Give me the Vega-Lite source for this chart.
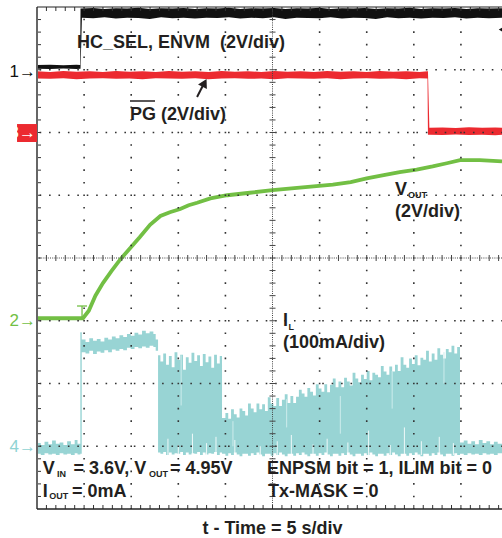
{
"$schema":"https://vega.github.io/schema/vega-lite/v6.json",
"width":465,"height":502,
"autosize":{"type":"none"},
"padding":{"left":37,"top":7,"right":0,"bottom":29},
"background":"white",
"config":{"view":{"stroke":null},"font":"Liberation Sans"},
"datasets":{
"il":[
{"t":0,"hi":1.05,"lo":0.88},{"t":0.4,"hi":1.02,"lo":0.86},{"t":0.8,"hi":1.07,"lo":0.89},{"t":1.2,"hi":1.03,"lo":0.87},{"t":1.6,"hi":1.09,"lo":0.88},{"t":2.0,"hi":1.04,"lo":0.86},{"t":2.4,"hi":1.06,"lo":0.89},{"t":2.8,"hi":1.02,"lo":0.87},{"t":3.2,"hi":1.08,"lo":0.88},{"t":3.6,"hi":1.03,"lo":0.86},{"t":4.0,"hi":1.1,"lo":0.89},{"t":4.3,"hi":1.04,"lo":0.87},
{"t":4.6,"hi":2.8,"lo":0.88},
{"t":4.75,"hi":2.7,"lo":2.5},{"t":5.15,"hi":2.66,"lo":2.48},{"t":5.55,"hi":2.72,"lo":2.52},{"t":5.95,"hi":2.68,"lo":2.47},{"t":6.35,"hi":2.71,"lo":2.51},{"t":6.75,"hi":2.67,"lo":2.49},{"t":7.15,"hi":2.73,"lo":2.53},{"t":7.55,"hi":2.7,"lo":2.5},{"t":7.95,"hi":2.75,"lo":2.54},{"t":8.35,"hi":2.72,"lo":2.52},{"t":8.75,"hi":2.77,"lo":2.55},{"t":9.15,"hi":2.74,"lo":2.53},{"t":9.55,"hi":2.79,"lo":2.57},{"t":9.95,"hi":2.76,"lo":2.55},{"t":10.35,"hi":2.81,"lo":2.58},{"t":10.75,"hi":2.78,"lo":2.56},{"t":11.15,"hi":2.84,"lo":2.59},{"t":11.55,"hi":2.8,"lo":2.57},{"t":11.95,"hi":2.83,"lo":2.6},{"t":12.35,"hi":2.79,"lo":2.58},{"t":12.6,"hi":2.7,"lo":2.52},
{"t":12.85,"hi":2.45,"lo":0.9},{"t":13.1,"hi":2.35,"lo":0.88},{"t":13.4,"hi":2.48,"lo":0.91},{"t":13.7,"hi":2.3,"lo":0.86},{"t":14.0,"hi":2.44,"lo":0.9},{"t":14.3,"hi":2.26,"lo":0.87},{"t":14.6,"hi":2.5,"lo":0.89},{"t":14.9,"hi":2.38,"lo":0.88},{"t":15.2,"hi":2.46,"lo":0.91},{"t":15.5,"hi":2.22,"lo":0.86},{"t":15.8,"hi":2.42,"lo":0.9},{"t":16.1,"hi":2.33,"lo":0.87},{"t":16.4,"hi":2.49,"lo":0.89},{"t":16.7,"hi":2.36,"lo":0.88},{"t":17.0,"hi":2.45,"lo":0.91},{"t":17.3,"hi":2.28,"lo":0.86},{"t":17.6,"hi":2.47,"lo":0.9},{"t":17.9,"hi":2.34,"lo":0.87},{"t":18.2,"hi":2.43,"lo":0.89},{"t":18.5,"hi":2.25,"lo":0.88},{"t":18.8,"hi":2.46,"lo":0.91},{"t":19.1,"hi":2.32,"lo":0.86},{"t":19.4,"hi":2.44,"lo":0.9},
{"t":19.64,"hi":1.45,"lo":0.88},{"t":20.0,"hi":1.53,"lo":0.85},{"t":20.3,"hi":1.44,"lo":0.89},{"t":20.6,"hi":1.59,"lo":0.86},{"t":20.9,"hi":1.51,"lo":0.9},{"t":21.2,"hi":1.46,"lo":0.87},{"t":21.5,"hi":1.6,"lo":0.84},{"t":21.8,"hi":1.56,"lo":0.88},{"t":22.1,"hi":1.49,"lo":0.88},{"t":22.4,"hi":1.68,"lo":0.85},{"t":22.7,"hi":1.6,"lo":0.89},{"t":23.0,"hi":1.54,"lo":0.86},{"t":23.3,"hi":1.68,"lo":0.9},{"t":23.6,"hi":1.59,"lo":0.87},{"t":23.9,"hi":1.67,"lo":0.84},{"t":24.2,"hi":1.56,"lo":0.88},{"t":24.5,"hi":1.78,"lo":0.88},{"t":24.8,"hi":1.68,"lo":0.85},{"t":25.1,"hi":1.64,"lo":0.89},{"t":25.4,"hi":1.77,"lo":0.86},{"t":25.7,"hi":1.64,"lo":0.9},{"t":26.0,"hi":1.74,"lo":0.87},{"t":26.3,"hi":1.83,"lo":0.84},{"t":26.6,"hi":1.69,"lo":0.88},{"t":26.9,"hi":1.8,"lo":0.88},{"t":27.2,"hi":1.69,"lo":0.85},{"t":27.5,"hi":1.79,"lo":0.89},{"t":27.8,"hi":1.9,"lo":0.86},{"t":28.1,"hi":1.84,"lo":0.9},{"t":28.4,"hi":1.79,"lo":0.87},{"t":28.7,"hi":1.93,"lo":0.84},{"t":29.0,"hi":1.87,"lo":0.88},{"t":29.3,"hi":1.81,"lo":0.88},{"t":29.6,"hi":1.99,"lo":0.85},{"t":29.9,"hi":1.92,"lo":0.89},{"t":30.2,"hi":1.87,"lo":0.86},{"t":30.5,"hi":1.99,"lo":0.9},{"t":30.8,"hi":1.86,"lo":0.87},{"t":31.1,"hi":1.98,"lo":0.84},{"t":31.4,"hi":2.08,"lo":0.88},{"t":31.7,"hi":1.94,"lo":0.88},{"t":32.0,"hi":2.03,"lo":0.85},{"t":32.3,"hi":1.94,"lo":0.89},{"t":32.6,"hi":2.09,"lo":0.86},{"t":32.9,"hi":2.03,"lo":0.9},{"t":33.2,"hi":1.97,"lo":0.87},{"t":33.5,"hi":2.17,"lo":0.84},{"t":33.8,"hi":2.08,"lo":0.88},{"t":34.1,"hi":2.02,"lo":0.88},{"t":34.4,"hi":2.14,"lo":0.85},{"t":34.7,"hi":2.07,"lo":0.89},{"t":35.0,"hi":2.2,"lo":0.86},{"t":35.3,"hi":2.05,"lo":0.9},{"t":35.6,"hi":2.17,"lo":0.87},{"t":35.9,"hi":2.14,"lo":0.84},{"t":36.2,"hi":2.1,"lo":0.88},{"t":36.5,"hi":2.28,"lo":0.88},{"t":36.8,"hi":2.19,"lo":0.85},{"t":37.1,"hi":2.14,"lo":0.89},{"t":37.4,"hi":2.27,"lo":0.86},{"t":37.7,"hi":2.19,"lo":0.9},{"t":38.0,"hi":2.3,"lo":0.87},{"t":38.3,"hi":2.2,"lo":0.84},{"t":38.6,"hi":2.42,"lo":0.88},{"t":38.9,"hi":2.3,"lo":0.88},{"t":39.2,"hi":2.25,"lo":0.85},{"t":39.5,"hi":2.4,"lo":0.89},{"t":39.8,"hi":2.31,"lo":0.86},{"t":40.1,"hi":2.45,"lo":0.9},{"t":40.4,"hi":2.29,"lo":0.87},{"t":40.7,"hi":2.41,"lo":0.84},{"t":41.0,"hi":2.38,"lo":0.88},{"t":41.3,"hi":2.52,"lo":0.88},{"t":41.6,"hi":2.35,"lo":0.85},{"t":41.9,"hi":2.48,"lo":0.89},{"t":42.2,"hi":2.38,"lo":0.86},{"t":42.5,"hi":2.56,"lo":0.9},{"t":42.8,"hi":2.46,"lo":0.87},{"t":43.1,"hi":2.4,"lo":0.84},{"t":43.4,"hi":2.55,"lo":0.88},{"t":43.7,"hi":2.5,"lo":0.88},{"t":44.0,"hi":2.6,"lo":0.85},{"t":44.3,"hi":2.48,"lo":0.89},{"t":44.6,"hi":2.58,"lo":0.86},
{"t":44.9,"hi":1.06,"lo":0.88},{"t":45.3,"hi":1.09,"lo":0.86},{"t":45.7,"hi":1.04,"lo":0.89},{"t":46.1,"hi":1.08,"lo":0.87},{"t":46.5,"hi":1.03,"lo":0.88},{"t":46.9,"hi":1.1,"lo":0.86},{"t":47.3,"hi":1.05,"lo":0.89},{"t":47.7,"hi":1.08,"lo":0.87},{"t":48.1,"hi":1.03,"lo":0.88},{"t":48.5,"hi":1.07,"lo":0.86},{"t":48.9,"hi":1.04,"lo":0.89},{"t":49.36,"hi":1.06,"lo":0.87}
],
"ws":[{"t":13.9,"a":0.86,"b":1.12},{"t":15.0,"a":0.86,"b":1.02},{"t":16.5,"a":0.86,"b":1.2},{"t":18.0,"a":0.86,"b":1.05},{"t":19.0,"a":0.86,"b":1.15},{"t":21.0,"a":0.86,"b":1.1},{"t":23.7,"a":0.86,"b":1.0},{"t":25.5,"a":0.86,"b":1.08},{"t":27.0,"a":0.86,"b":1.18},{"t":29.3,"a":0.86,"b":1.03},{"t":30.8,"a":0.86,"b":1.12},{"t":33.0,"a":0.86,"b":1.06},{"t":35.2,"a":0.86,"b":1.25},{"t":37.5,"a":0.86,"b":1.02},{"t":39.0,"a":0.86,"b":1.3},{"t":40.8,"a":0.86,"b":1.08},{"t":42.7,"a":0.86,"b":1.15},{"t":44.2,"a":0.86,"b":1.05}],
"ls":[{"t":15.3,"a":1.65,"b":2.45},{"t":26.5,"a":1.3,"b":1.75},{"t":37.7,"a":1.6,"b":2.2},{"t":43.2,"a":2.0,"b":2.5},{"t":20.8,"a":1.0,"b":1.4},{"t":32.2,"a":1.2,"b":1.8}],
"green":[
{"t":0,"v":3.04},{"t":4.88,"v":3.04},{"t":5.5,"v":3.16},{"t":6.2,"v":3.4},{"t":7.0,"v":3.6},{"t":7.9,"v":3.79},{"t":8.8,"v":3.97},{"t":9.9,"v":4.16},{"t":10.9,"v":4.33},{"t":12.0,"v":4.53},{"t":13.1,"v":4.67},{"t":14.1,"v":4.73},{"t":15.2,"v":4.78},{"t":16.1,"v":4.84},{"t":17.0,"v":4.88},{"t":18.4,"v":4.95},{"t":20.2,"v":5.0},{"t":22.6,"v":5.04},{"t":25.0,"v":5.08},{"t":27.9,"v":5.12},{"t":31.4,"v":5.17},{"t":33.3,"v":5.21},{"t":35.0,"v":5.27},{"t":36.8,"v":5.32},{"t":38.5,"v":5.37},{"t":40.3,"v":5.41},{"t":42.0,"v":5.46},{"t":43.5,"v":5.51},{"t":44.9,"v":5.56},{"t":47.0,"v":5.56},{"t":49.36,"v":5.54}
],
"red":[
{"t":0,"hi":6.975,"lo":6.86},{"t":1.4,"hi":6.965,"lo":6.855},{"t":2.8,"hi":6.98,"lo":6.865},{"t":4.2,"hi":6.97,"lo":6.85},{"t":5.6,"hi":6.975,"lo":6.86},{"t":7.0,"hi":6.965,"lo":6.865},{"t":8.4,"hi":6.98,"lo":6.855},{"t":9.8,"hi":6.97,"lo":6.86},{"t":11.2,"hi":6.975,"lo":6.85},{"t":12.6,"hi":6.965,"lo":6.865},{"t":14.0,"hi":6.98,"lo":6.86},{"t":15.4,"hi":6.97,"lo":6.855},{"t":16.8,"hi":6.975,"lo":6.865},{"t":18.2,"hi":6.965,"lo":6.85},{"t":19.6,"hi":6.98,"lo":6.86},{"t":21.0,"hi":6.97,"lo":6.865},{"t":22.4,"hi":6.975,"lo":6.855},{"t":23.8,"hi":6.965,"lo":6.86},{"t":25.2,"hi":6.98,"lo":6.85},{"t":26.6,"hi":6.97,"lo":6.865},{"t":28.0,"hi":6.975,"lo":6.86},{"t":29.4,"hi":6.965,"lo":6.855},{"t":30.8,"hi":6.98,"lo":6.865},{"t":32.2,"hi":6.97,"lo":6.85},{"t":33.6,"hi":6.975,"lo":6.86},{"t":35.0,"hi":6.965,"lo":6.865},{"t":36.4,"hi":6.98,"lo":6.855},{"t":37.8,"hi":6.97,"lo":6.86},{"t":39.2,"hi":6.975,"lo":6.85},{"t":40.6,"hi":6.965,"lo":6.865},{"t":41.45,"hi":6.975,"lo":6.86},
{"t":41.5,"hi":6.975,"lo":5.965},{"t":41.65,"hi":6.075,"lo":5.965},{"t":43.05,"hi":6.08,"lo":5.96},{"t":44.45,"hi":6.07,"lo":5.97},{"t":45.85,"hi":6.085,"lo":5.96},{"t":47.25,"hi":6.075,"lo":5.965},{"t":48.65,"hi":6.08,"lo":5.955},{"t":49.36,"hi":6.075,"lo":5.965}
],
"black":[
{"t":0,"hi":7.075,"lo":7.015},{"t":1.4,"hi":7.08,"lo":7.01},{"t":2.8,"hi":7.07,"lo":7.02},{"t":4.2,"hi":7.08,"lo":7.01},{"t":4.58,"hi":7.075,"lo":7.015},{"t":4.62,"hi":7.975,"lo":7.015},
{"t":4.77,"hi":7.975,"lo":7.83},{"t":5.97,"hi":7.985,"lo":7.82},{"t":7.17,"hi":7.97,"lo":7.835},{"t":8.37,"hi":7.98,"lo":7.815},{"t":9.57,"hi":7.975,"lo":7.83},{"t":10.77,"hi":7.99,"lo":7.825},{"t":11.97,"hi":7.97,"lo":7.81},{"t":13.17,"hi":7.98,"lo":7.835},{"t":14.37,"hi":7.975,"lo":7.82},{"t":15.57,"hi":7.985,"lo":7.83},{"t":16.77,"hi":7.97,"lo":7.815},{"t":17.97,"hi":7.98,"lo":7.83},{"t":19.17,"hi":7.975,"lo":7.825},{"t":20.37,"hi":7.99,"lo":7.835},{"t":21.57,"hi":7.97,"lo":7.815},{"t":22.77,"hi":7.98,"lo":7.83},{"t":23.97,"hi":7.975,"lo":7.82},{"t":25.17,"hi":7.985,"lo":7.835},{"t":26.37,"hi":7.97,"lo":7.81},{"t":27.57,"hi":7.98,"lo":7.83},{"t":28.77,"hi":7.975,"lo":7.825},{"t":29.97,"hi":7.99,"lo":7.82},{"t":31.17,"hi":7.97,"lo":7.835},{"t":32.37,"hi":7.98,"lo":7.815},{"t":33.57,"hi":7.975,"lo":7.83},{"t":34.77,"hi":7.985,"lo":7.825},{"t":35.97,"hi":7.97,"lo":7.81},{"t":37.17,"hi":7.98,"lo":7.835},{"t":38.37,"hi":7.975,"lo":7.82},{"t":39.57,"hi":7.99,"lo":7.83},{"t":40.77,"hi":7.97,"lo":7.815},{"t":41.97,"hi":7.98,"lo":7.83},{"t":43.17,"hi":7.975,"lo":7.825},{"t":44.37,"hi":7.985,"lo":7.835},{"t":45.57,"hi":7.97,"lo":7.815},{"t":46.77,"hi":7.98,"lo":7.83},{"t":47.97,"hi":7.975,"lo":7.82},{"t":49.36,"hi":7.98,"lo":7.83}
],
"gx":[{"t":5},{"t":10},{"t":15},{"t":20},{"t":30},{"t":35},{"t":40},{"t":45}],
"gy":[{"v":1},{"v":2},{"v":3},{"v":5},{"v":6},{"v":7}],
"mx":[{"t":1,"b":0,"c":4,"e":8},{"t":2,"b":0,"c":4,"e":8},{"t":3,"b":0,"c":4,"e":8},{"t":4,"b":0,"c":4,"e":8},{"t":5,"b":0,"c":4,"e":8},{"t":6,"b":0,"c":4,"e":8},{"t":7,"b":0,"c":4,"e":8},{"t":8,"b":0,"c":4,"e":8},{"t":9,"b":0,"c":4,"e":8},{"t":10,"b":0,"c":4,"e":8},{"t":11,"b":0,"c":4,"e":8},{"t":12,"b":0,"c":4,"e":8},{"t":13,"b":0,"c":4,"e":8},{"t":14,"b":0,"c":4,"e":8},{"t":15,"b":0,"c":4,"e":8},{"t":16,"b":0,"c":4,"e":8},{"t":17,"b":0,"c":4,"e":8},{"t":18,"b":0,"c":4,"e":8},{"t":19,"b":0,"c":4,"e":8},{"t":20,"b":0,"c":4,"e":8},{"t":21,"b":0,"c":4,"e":8},{"t":22,"b":0,"c":4,"e":8},{"t":23,"b":0,"c":4,"e":8},{"t":24,"b":0,"c":4,"e":8},{"t":25,"b":0,"c":4,"e":8},{"t":26,"b":0,"c":4,"e":8},{"t":27,"b":0,"c":4,"e":8},{"t":28,"b":0,"c":4,"e":8},{"t":29,"b":0,"c":4,"e":8},{"t":30,"b":0,"c":4,"e":8},{"t":31,"b":0,"c":4,"e":8},{"t":32,"b":0,"c":4,"e":8},{"t":33,"b":0,"c":4,"e":8},{"t":34,"b":0,"c":4,"e":8},{"t":35,"b":0,"c":4,"e":8},{"t":36,"b":0,"c":4,"e":8},{"t":37,"b":0,"c":4,"e":8},{"t":38,"b":0,"c":4,"e":8},{"t":39,"b":0,"c":4,"e":8},{"t":40,"b":0,"c":4,"e":8},{"t":41,"b":0,"c":4,"e":8},{"t":42,"b":0,"c":4,"e":8},{"t":43,"b":0,"c":4,"e":8},{"t":44,"b":0,"c":4,"e":8},{"t":45,"b":0,"c":4,"e":8},{"t":46,"b":0,"c":4,"e":8},{"t":47,"b":0,"c":4,"e":8},{"t":48,"b":0,"c":4,"e":8},{"t":49,"b":0,"c":4,"e":8}],
"my":[{"v":0.2,"l":0,"c":25},{"v":0.4,"l":0,"c":25},{"v":0.6,"l":0,"c":25},{"v":0.8,"l":0,"c":25},{"v":1,"l":0,"c":25},{"v":1.2,"l":0,"c":25},{"v":1.4,"l":0,"c":25},{"v":1.6,"l":0,"c":25},{"v":1.8,"l":0,"c":25},{"v":2,"l":0,"c":25},{"v":2.2,"l":0,"c":25},{"v":2.4,"l":0,"c":25},{"v":2.6,"l":0,"c":25},{"v":2.8,"l":0,"c":25},{"v":3,"l":0,"c":25},{"v":3.2,"l":0,"c":25},{"v":3.4,"l":0,"c":25},{"v":3.6,"l":0,"c":25},{"v":3.8,"l":0,"c":25},{"v":4,"l":0,"c":25},{"v":4.2,"l":0,"c":25},{"v":4.4,"l":0,"c":25},{"v":4.6,"l":0,"c":25},{"v":4.8,"l":0,"c":25},{"v":5,"l":0,"c":25},{"v":5.2,"l":0,"c":25},{"v":5.4,"l":0,"c":25},{"v":5.6,"l":0,"c":25},{"v":5.8,"l":0,"c":25},{"v":6,"l":0,"c":25},{"v":6.2,"l":0,"c":25},{"v":6.4,"l":0,"c":25},{"v":6.6,"l":0,"c":25},{"v":6.8,"l":0,"c":25},{"v":7,"l":0,"c":25},{"v":7.2,"l":0,"c":25},{"v":7.4,"l":0,"c":25},{"v":7.6,"l":0,"c":25},{"v":7.8,"l":0,"c":25}],
"lab":[
{"t":4.25,"v":7.347,"s":"HC_SEL, ENVM\u00a0 (2V/div)"},
{"t":9.87,"v":6.199,"s":"PG (2V/div)"},
{"t":38.0,"v":5.004,"s":"V"},
{"t":38.0,"v":4.653,"s":"(2V/div)"},
{"t":26.11,"v":2.916,"s":"I"},
{"t":26.11,"v":2.566,"s":"(100mA/div)"},
{"t":0.605,"v":0.558,"s":"V"},
{"t":3.87,"v":0.558,"s":"= 3.6V, V"},
{"t":14.12,"v":0.558,"s":"= 4.95V"},
{"t":0.605,"v":0.199,"s":"I"},
{"t":3.72,"v":0.199,"s":"= 0mA"},
{"t":24.42,"v":0.558,"s":"ENPSM bit = 1, ILIM bit = 0"},
{"t":24.52,"v":0.199,"s":"Tx-MASK = 0"}
],
"sub":[
{"t":39.38,"v":4.956,"s":"OUT"},
{"t":26.7,"v":2.853,"s":"L"},
{"t":2.12,"v":0.51,"s":"IN"},
{"t":11.89,"v":0.51,"s":"OUT"},
{"t":1.31,"v":0.159,"s":"OUT"}
],
"mk":[
{"t":-0.106,"v":6.964,"s":"1→","ch":"1"},
{"t":-0.106,"v":5.99,"s":"3→","ch":"3"},
{"t":-0.106,"v":2.996,"s":"2→","ch":"2"},
{"t":-0.106,"v":0.988,"s":"4→","ch":"4"}
]
},
"layer":[
{"data":{"name":"il"},"mark":{"type":"area","interpolate":"step-after","color":"#98d4d4"},
 "encoding":{"x":{"field":"t","type":"quantitative","scale":{"domain":[0,49.36],"nice":false,"zero":false},"axis":null},
  "y":{"field":"hi","type":"quantitative","scale":{"domain":[0,8],"nice":false,"zero":false},"axis":null},
  "y2":{"field":"lo"}}},
{"data":{"name":"ws"},"mark":{"type":"rule","color":"#ffffff","strokeWidth":1,"opacity":0.85},
 "encoding":{"x":{"field":"t","type":"quantitative","axis":null},"y":{"field":"a","type":"quantitative","axis":null},"y2":{"field":"b"}}},
{"data":{"name":"ls"},"mark":{"type":"rule","color":"#cdecec","strokeWidth":1},
 "encoding":{"x":{"field":"t","type":"quantitative","axis":null},"y":{"field":"a","type":"quantitative","axis":null},"y2":{"field":"b"}}},
{"data":{"values":[{"t":4.6,"t2":4.75,"v":2.805}]},"mark":{"type":"rule","color":"#98d4d4","strokeWidth":1.5},
 "encoding":{"x":{"field":"t","type":"quantitative","axis":null},"x2":{"field":"t2"},"y":{"field":"v","type":"quantitative","axis":null}}},
{"data":{"name":"green"},"mark":{"type":"line","color":"#72bf44","strokeWidth":3.8},
 "encoding":{"x":{"field":"t","type":"quantitative","axis":null},"y":{"field":"v","type":"quantitative","axis":null}}},
{"data":{"values":[{"t":4.25,"t2":5.31,"v":3.235,"v2":3.235},{"t":4.78,"t2":4.78,"v":3.235,"v2":3.04}]},"mark":{"type":"rule","color":"#72bf44","strokeWidth":1.3},
 "encoding":{"x":{"field":"t","type":"quantitative","axis":null},"x2":{"field":"t2"},"y":{"field":"v","type":"quantitative","axis":null},"y2":{"field":"v2"}}},
{"data":{"name":"red"},"mark":{"type":"area","color":"#ec2a30"},
 "encoding":{"x":{"field":"t","type":"quantitative","axis":null},"y":{"field":"hi","type":"quantitative","axis":null},"y2":{"field":"lo"}}},
{"data":{"name":"black"},"mark":{"type":"area","color":"#111111"},
 "encoding":{"x":{"field":"t","type":"quantitative","axis":null},"y":{"field":"hi","type":"quantitative","axis":null},"y2":{"field":"lo"}}},
{"data":{"name":"gx"},"mark":{"type":"rule","color":"#333333","strokeWidth":1.6,"strokeDash":[1.6,10.95],"strokeDashOffset":0.8},
 "encoding":{"x":{"field":"t","type":"quantitative","axis":null}}},
{"data":{"name":"gy"},"mark":{"type":"rule","color":"#333333","strokeWidth":1.6,"strokeDash":[1.6,7.82],"strokeDashOffset":0.8},
 "encoding":{"y":{"field":"v","type":"quantitative","axis":null}}},
{"data":{"values":[{"t":25}]},"mark":{"type":"rule","color":"#444444","strokeWidth":1,"strokeDash":[1,1.2]},
 "encoding":{"x":{"field":"t","type":"quantitative","axis":null}}},
{"data":{"values":[{"v":4}]},"mark":{"type":"rule","color":"#444444","strokeWidth":1,"strokeDash":[1,1.2]},
 "encoding":{"y":{"field":"v","type":"quantitative","axis":null}}},
{"data":{"name":"mx"},"mark":{"type":"tick","orient":"vertical","size":6,"thickness":1,"color":"#444444","opacity":1},
 "encoding":{"x":{"field":"t","type":"quantitative","axis":null},"y":{"field":"c","type":"quantitative","axis":null}}},
{"data":{"name":"my"},"mark":{"type":"tick","orient":"horizontal","size":6,"thickness":1,"color":"#444444","opacity":1},
 "encoding":{"y":{"field":"v","type":"quantitative","axis":null},"x":{"field":"c","type":"quantitative","axis":null}}},
{"data":{"name":"mx"},"mark":{"type":"tick","orient":"vertical","size":8,"thickness":1,"color":"#333333","opacity":1,"clip":true},
 "encoding":{"x":{"field":"t","type":"quantitative","axis":null},"y":{"field":"b","type":"quantitative","axis":null}}},
{"data":{"name":"mx"},"mark":{"type":"tick","orient":"vertical","size":8,"thickness":1,"color":"#333333","opacity":1,"clip":true},
 "encoding":{"x":{"field":"t","type":"quantitative","axis":null},"y":{"field":"e","type":"quantitative","axis":null}}},
{"data":{"name":"my"},"mark":{"type":"tick","orient":"horizontal","size":8,"thickness":1,"color":"#333333","opacity":1,"clip":true},
 "encoding":{"y":{"field":"v","type":"quantitative","axis":null},"x":{"field":"l","type":"quantitative","axis":null}}},
{"data":{"values":[{"t":0}]},"mark":{"type":"rule","color":"#666666","strokeWidth":2},
 "encoding":{"x":{"field":"t","type":"quantitative","axis":null}}},
{"data":{"values":[{"v":0}]},"mark":{"type":"rule","color":"#222222","strokeWidth":1.5},
 "encoding":{"y":{"field":"v","type":"quantitative","axis":null}}},
{"data":{"values":[{"v":8}]},"mark":{"type":"rule","color":"#222222","strokeWidth":1.2},
 "encoding":{"y":{"field":"v","type":"quantitative","axis":null}}},
{"data":{"values":[{"t":9.87,"t2":12.53,"v":6.502}]},"mark":{"type":"rule","color":"#231f20","strokeWidth":1.5},
 "encoding":{"x":{"field":"t","type":"quantitative","axis":null},"x2":{"field":"t2"},"y":{"field":"v","type":"quantitative","axis":null}}},
{"data":{"values":[{"t":16.99,"v":6.566},{"t":17.75,"v":6.79}]},"mark":{"type":"line","color":"#231f20","strokeWidth":2},
 "encoding":{"x":{"field":"t","type":"quantitative","axis":null},"y":{"field":"v","type":"quantitative","axis":null}}},
{"data":{"values":[{"t":17.78,"v":6.79}]},"mark":{"type":"point","shape":"triangle-up","angle":28,"size":100,"filled":true,"color":"#231f20","opacity":1},
 "encoding":{"x":{"field":"t","type":"quantitative","axis":null},"y":{"field":"v","type":"quantitative","axis":null}}},
{"data":{"values":[{"t":49.45,"v":7.64}]},"mark":{"type":"point","shape":"triangle-left","size":90,"filled":true,"color":"#111111","opacity":1},
 "encoding":{"x":{"field":"t","type":"quantitative","axis":null},"y":{"field":"v","type":"quantitative","axis":null}}},
{"data":{"values":[{"t":-2.12,"t2":0,"v":6.135,"v2":5.849}]},"mark":{"type":"rect","color":"#ec2a30"},
 "encoding":{"x":{"field":"t","type":"quantitative","axis":null},"x2":{"field":"t2"},"y":{"field":"v","type":"quantitative","axis":null},"y2":{"field":"v2"}}},
{"data":{"name":"mk"},"mark":{"type":"text","align":"right","baseline":"middle","fontSize":17,"font":"Liberation Sans"},
 "encoding":{"x":{"field":"t","type":"quantitative","axis":null},"y":{"field":"v","type":"quantitative","axis":null},"text":{"field":"s"},
  "color":{"field":"ch","type":"nominal","scale":{"domain":["1","2","3","4"],"range":["#111111","#72bf44","#ffffff","#8fd3d3"]},"legend":null}}},
{"data":{"name":"lab"},"mark":{"type":"text","align":"left","baseline":"alphabetic","fontSize":18,"fontWeight":"bold","font":"Liberation Sans","color":"#231f20"},
 "encoding":{"x":{"field":"t","type":"quantitative","axis":null},"y":{"field":"v","type":"quantitative","axis":null},"text":{"field":"s"}}},
{"data":{"name":"sub"},"mark":{"type":"text","align":"left","baseline":"alphabetic","fontSize":9,"fontWeight":"bold","font":"Liberation Sans","color":"#231f20"},
 "encoding":{"x":{"field":"t","type":"quantitative","axis":null},"y":{"field":"v","type":"quantitative","axis":null},"text":{"field":"s"}}},
{"data":{"values":[{"t":25.0,"v":-0.398,"s":"t - Time = 5 s/div"}]},"mark":{"type":"text","align":"center","baseline":"alphabetic","fontSize":18,"fontWeight":"bold","font":"Liberation Sans","color":"#231f20"},
 "encoding":{"x":{"field":"t","type":"quantitative","axis":null},"y":{"field":"v","type":"quantitative","axis":null},"text":{"field":"s"}}}
]
}
